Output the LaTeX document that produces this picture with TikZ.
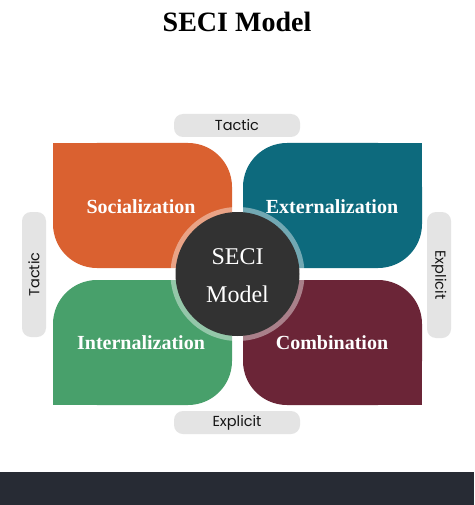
\documentclass[tikz,border=0pt]{standalone}
\usepackage{fontspec}
\setmainfont{Liberation Serif}
\newfontfamily\pillfont{Poppins}
\definecolor{qorange}{HTML}{DA6130}
\definecolor{qteal}{HTML}{0D6A7D}
\definecolor{qgreen}{HTML}{48A06B}
\definecolor{qmaroon}{HTML}{6B2537}
\definecolor{qdark}{HTML}{323232}
\definecolor{pillgray}{HTML}{E4E4E4}
\definecolor{barcol}{HTML}{272B34}
\begin{document}
\begin{tikzpicture}[x=1pt,y=-1pt,
  quadlabel/.style={text=white,font=\bfseries\fontsize{20}{24}\selectfont,anchor=base,inner sep=0pt},
  pill/.style={fill=pillgray,rounded corners=9pt,inner sep=0pt,
     font=\pillfont\fontsize{14.5}{16}\selectfont,text=black!92},
  coretext/.style={text=white,font=\fontsize{24}{28}\selectfont,anchor=base,inner sep=0pt},
  qfill/.style={rounded corners=44pt}]
\useasboundingbox (0,0) rectangle (474,505);
\fill[white] (0,0) rectangle (474,505);
% title
\node[anchor=base,inner sep=0pt,font=\bfseries\fontsize{28}{32}\selectfont] (title) at (237,32) {SECI Model};
% quadrants
\fill[qorange,qfill] (53,143) rectangle (232,268);
\fill[qorange] (53,143) rectangle (97,187);
\fill[qorange] (188,224) rectangle (232,268);
\fill[qteal,qfill] (243,143) rectangle (422,268);
\fill[qteal] (378,143) rectangle (422,187);
\fill[qteal] (243,224) rectangle (287,268);
\fill[qgreen,qfill] (53,280) rectangle (232,405);
\fill[qgreen] (188,280) rectangle (232,324);
\fill[qgreen] (53,361) rectangle (97,405);
\fill[qmaroon,qfill] (243,280) rectangle (422,405);
\fill[qmaroon] (243,280) rectangle (287,324);
\fill[qmaroon] (378,361) rectangle (422,405);
% labels
\node[quadlabel] (soc) at (141,213) {Socialization};
\node[quadlabel] (ext) at (332,213) {Externalization};
\node[quadlabel] (int) at (141,349) {Internalization};
\node[quadlabel] (com) at (332,349) {Combination};
% centre circle
\fill[white,opacity=0.42] (237.5,274) circle[radius=67pt];
\node[circle,fill=qdark,minimum size=124pt,inner sep=0pt] (core) at (237.5,274) {};
\node[coretext] (seci) at (237.5,264) {SECI};
\node[coretext] (model) at (237.5,302) {Model};
% pills
\node[pill,minimum width=126pt,minimum height=23pt] (ptop) at (237,125.5) {Tactic};
\node[pill,minimum width=126pt,minimum height=23pt] (pbot) at (237,422.5) {Explicit};
\node[pill,rotate=90,minimum width=125pt,minimum height=24pt] (pleft) at (34,274.5) {Tactic};
\node[pill,rotate=-90,minimum width=126pt,minimum height=24pt] (pright) at (439,275) {Explicit};
% bottom bar
\fill[barcol] (0,472) rectangle (474,505);
\end{tikzpicture}
\end{document}
